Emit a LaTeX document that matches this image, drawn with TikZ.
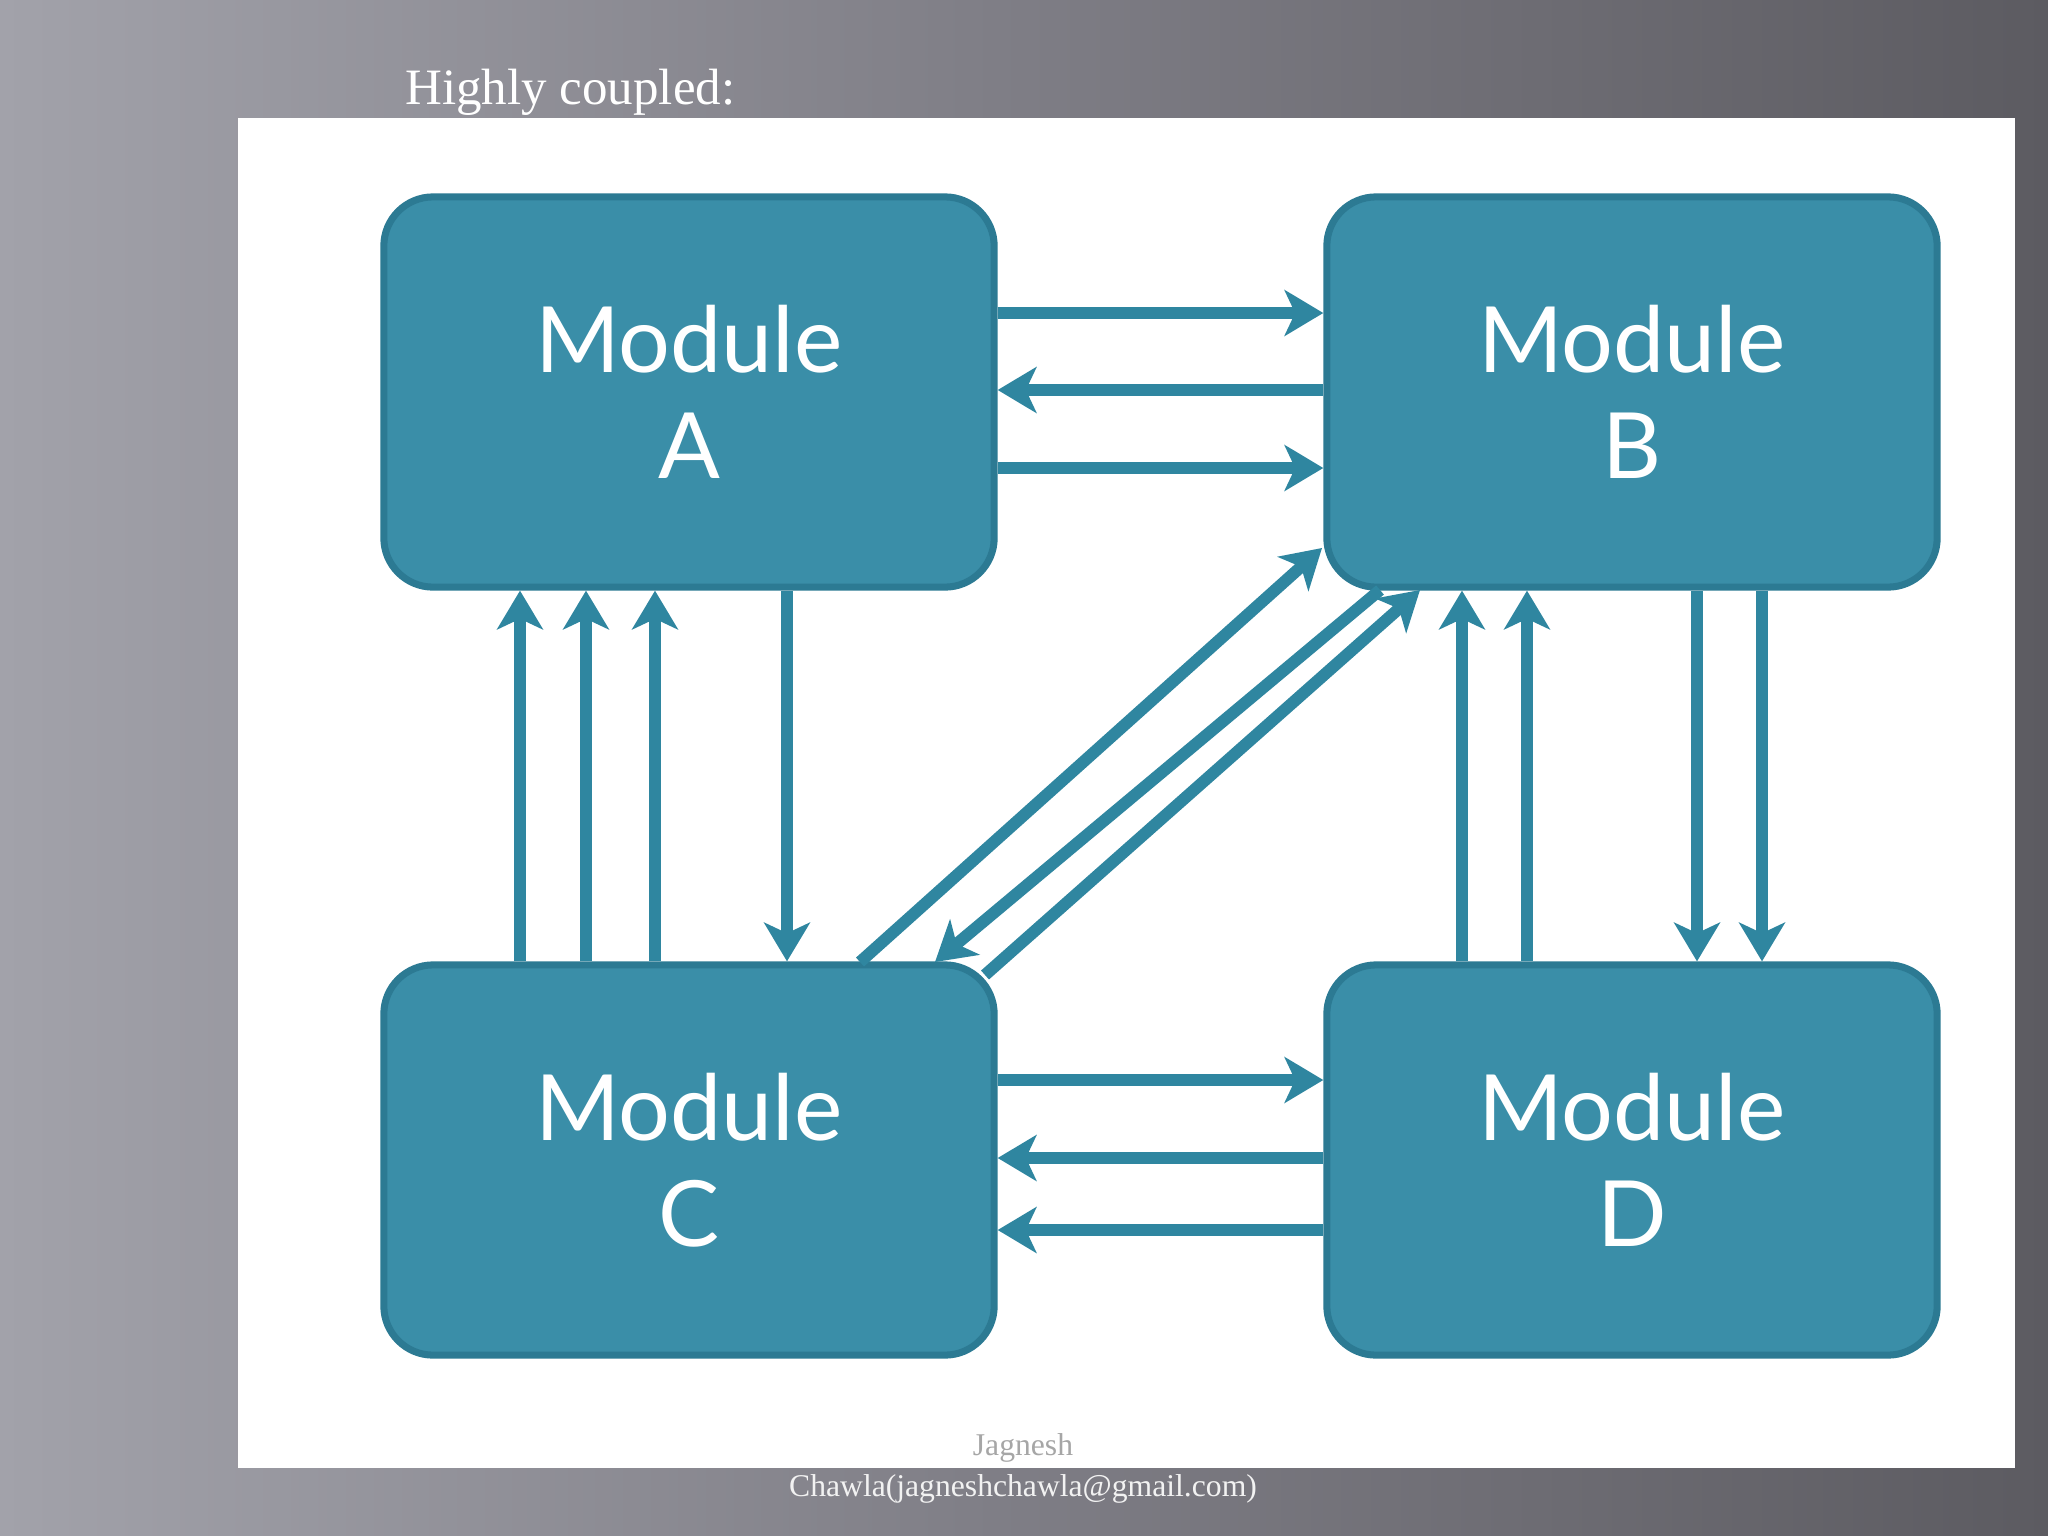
\documentclass[tikz,border=0pt]{standalone}
\usepackage{fontspec}
\setmainfont{Liberation Serif}
\newfontfamily\modfont{Lato}
\usetikzlibrary{arrows.meta}
\definecolor{teal1}{HTML}{3A8EA8}
\definecolor{tealb}{HTML}{2C7A93}
\definecolor{arr}{HTML}{2F86A0}
\definecolor{bgl}{HTML}{A2A2AA}
\definecolor{bgm}{HTML}{7E7D85}
\definecolor{bgr}{HTML}{5C5B61}
\tikzset{
 mod/.style={draw=tealb,line width=2pt,fill=teal1,rounded corners=14pt,minimum width=6.1cm,minimum height=3.9cm,text=white,font=\modfont\fontsize{26}{30}\selectfont,align=center},
 ar/.style={draw=arr,line width=3.4pt,-{Stealth[length=11pt,width=13pt,inset=3pt]}}
}
\begin{document}
\begin{tikzpicture}[x=0.01cm,y=-0.01cm]
\useasboundingbox (0,0) rectangle (2048,1536);
\shade[left color=bgl,right color=bgr,middle color=bgm] (0,0) rectangle (2048,1536);
\fill[white] (238,118) rectangle (2015,1468);
\node[anchor=west,text=white,font=\fontsize{14.5}{17}\selectfont] (t) at (393,92) {Highly coupled:};
\node[text=gray!70,font=\fontsize{9}{11}\selectfont] (f1) at (1023,1448) {Jagnesh};
\node[text=white!90!gray,font=\fontsize{9}{11}\selectfont] (f2) at (1023,1489) {Chawla(jagneshchawla@gmail.com)};
\node[mod] (A) at (689,392) {Module\\A};
\node[mod] (B) at (1632,392) {Module\\B};
\node[mod] (C) at (689,1160) {Module\\C};
\node[mod] (D) at (1632,1160) {Module\\D};
% A-B
\draw[ar] (A.east|-0,313) -- (B.west|-0,313);
\draw[ar] (B.west|-0,390) -- (A.east|-0,390);
\draw[ar] (A.east|-0,468) -- (B.west|-0,468);
% C-D
\draw[ar] (C.east|-0,1080) -- (D.west|-0,1080);
\draw[ar] (D.west|-0,1158) -- (C.east|-0,1158);
\draw[ar] (D.west|-0,1230) -- (C.east|-0,1230);
% C-A
\foreach \x in {520,586,655}{\draw[ar] (C.north-|\x,0) -- (A.south-|\x,0);}
\draw[ar] (A.south-|787,0) -- (C.north-|787,0);
% B-D
\foreach \x in {1697,1762}{\draw[ar] (B.south-|\x,0) -- (D.north-|\x,0);}
\foreach \x in {1462,1527}{\draw[ar] (D.north-|\x,0) -- (B.south-|\x,0);}
% diagonals
\coordinate (c1) at (860,962); \coordinate (b1) at (1322,548);
\coordinate (b2) at (1380,590); \coordinate (c2) at (935,962);
\coordinate (c3) at (985,975); \coordinate (b3) at (1420,590);
\draw[ar] (c1) -- (b1);
\draw[ar] (b2) -- (c2);
\draw[ar] (c3) -- (b3);
\end{tikzpicture}
\end{document}
